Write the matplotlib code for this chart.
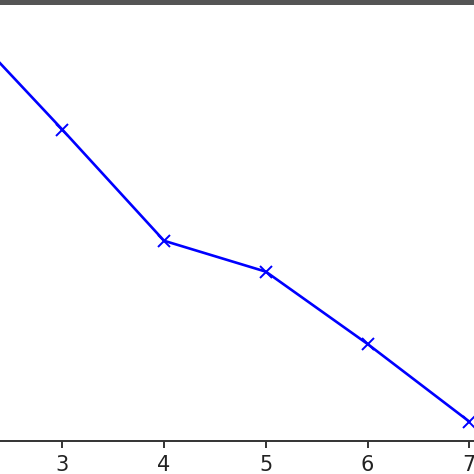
import numpy as np
import matplotlib
matplotlib.use("Agg")
import matplotlib.pyplot as plt

# number of clusters vs. score (only part of the chart is visible)
k_values = [2, 3, 4, 5, 6, 7]
scores = [47.6, 35.3, 22.7, 19.2, 11.0, 2.2]
tick_labels = ["3", "4", "5", "6", "7"]

fig = plt.figure(figsize=(4.74, 4.74), dpi=100)
ax = fig.add_axes([0, 0.0696, 1, 0.9304])

ax.plot(k_values, scores, color="blue", marker="x", markersize=9,
        markeredgewidth=1.4, linewidth=1.9, clip_on=True)

ax.set_xlim(2.387, 7.046)
ax.set_ylim(0, 50)
ax.set_xticks([3, 4, 5, 6, 7])
ax.set_xticklabels(tick_labels, fontsize=15, color="#222222")
ax.set_yticks([])

for side in ["left", "right"]:
    ax.spines[side].set_visible(False)
ax.spines["top"].set_color("#555555")
ax.spines["top"].set_linewidth(7.2)
ax.spines["bottom"].set_color("#333333")
ax.spines["bottom"].set_linewidth(1.4)
ax.tick_params(axis="x", length=5, width=1.4, color="#333333", pad=5)

fig.savefig("out.png", dpi=100)
